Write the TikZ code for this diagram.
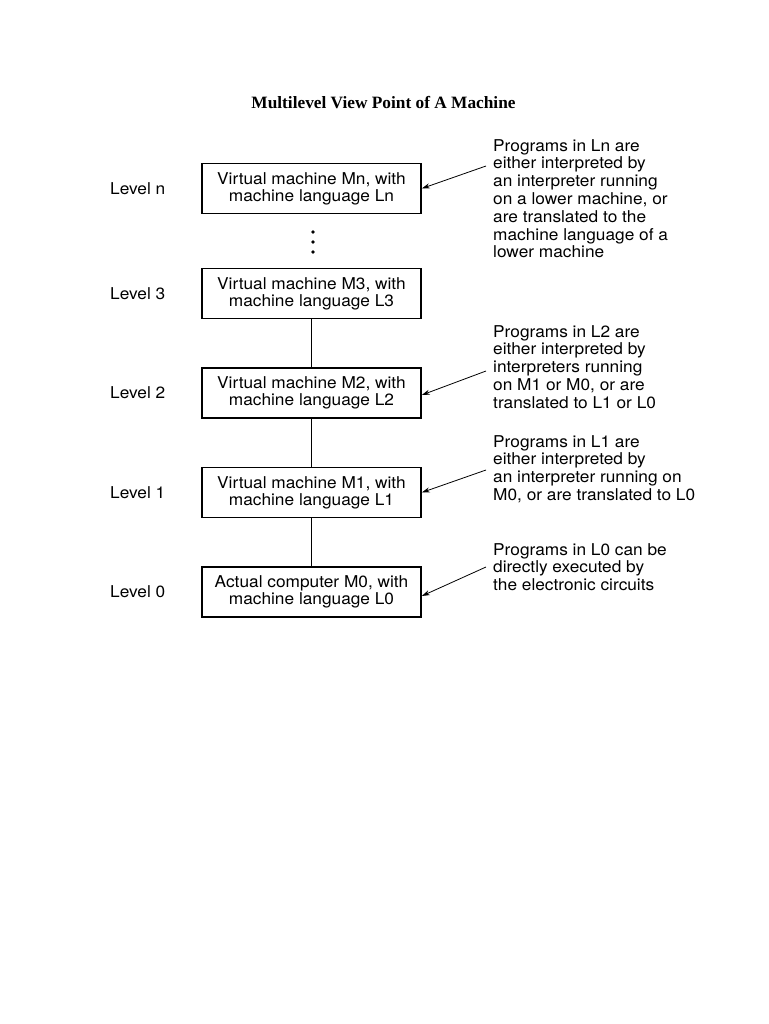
\documentclass[tikz,border=0pt]{standalone}
\usepackage{fontspec}
\setmainfont{TeX Gyre Heros}[FakeStretch=1.06]
\newfontfamily\titlefont{Liberation Serif}
\usetikzlibrary{arrows.meta}

\tikzset{
  machine/.style={draw, line width=1.6pt, minimum width=219pt, minimum height=50pt,
    inner sep=0pt, align=center, font=\fontsize{16.3}{17}\selectfont},
  level/.style={anchor=west, inner sep=0pt, font=\fontsize{16.3}{17}\selectfont},
  note/.style={anchor=north west, inner sep=0pt, align=left,
    font=\fontsize{16.3}{17.8}\selectfont},
  link/.style={line width=1.5pt},
  pointer/.style={line width=0.8pt, -{Stealth[length=8pt,width=5pt]}},
}

\begin{document}
\begin{tikzpicture}[x=1pt,y=-1pt]
\useasboundingbox (0,0) rectangle (768,1024);

% Title
\node (title) at (383.5,103) {\titlefont\bfseries\fontsize{17.3}{20}\selectfont Multilevel View Point of A Machine};

% Machine levels
\node[machine] (mn) at (311.5,188.5) {Virtual machine Mn, with\\machine language Ln};
\node[machine] (m3) at (311.5,293.5) {Virtual machine M3, with\\machine language L3};
\node[machine] (m2) at (311.5,393) {Virtual machine M2, with\\machine language L2};
\node[machine] (m1) at (311.5,492.5) {Virtual machine M1, with\\machine language L1};
\node[machine] (m0) at (311.5,592) {Actual computer M0, with\\machine language L0};

% Level names
\node[level] (ln) at (110,188.5) {Level n};
\node[level] (l3) at (110,293.5) {Level 3};
\node[level] (l2) at (110,393) {Level 2};
\node[level] (l1) at (110,492.5) {Level 1};
\node[level] (l0) at (110,592) {Level 0};

% Dots between Mn and M3
\foreach \y in {232,242,252}
  \fill (313,\y) circle (1.8pt);

% Links
\draw[link] (m3) -- (m2);
\draw[link] (m2) -- (m1);
\draw[link] (m1) -- (m0);

% Notes
\node[note] (nn) at (493,139) {Programs in Ln are\\either interpreted by\\an interpreter running\\on a lower machine, or\\are translated to the\\machine language of a\\lower machine};
\node[note] (n2) at (493,325) {Programs in L2 are\\either interpreted by\\interpreters running\\on M1 or M0, or are\\translated to L1 or L0};
\node[note] (n1) at (493,435) {Programs in L1 are\\either interpreted by\\an interpreter running on\\M0, or are translated to L0};
\node[note] (n0) at (493,543) {Programs in L0 can be\\directly executed by\\the electronic circuits};

% Pointers
\coordinate (pn) at (486,166);
\coordinate (p2) at (486,371);
\coordinate (p1) at (486,470);
\coordinate (p0) at (486,567);
\draw[pointer] (pn) -- (mn.east);
\draw[pointer] (p2) -- ([yshift=-2pt]m2.east);
\draw[pointer] (p1) -- (m1.east);
\draw[pointer] (p0) -- ([yshift=-4pt]m0.east);
\end{tikzpicture}
\end{document}
